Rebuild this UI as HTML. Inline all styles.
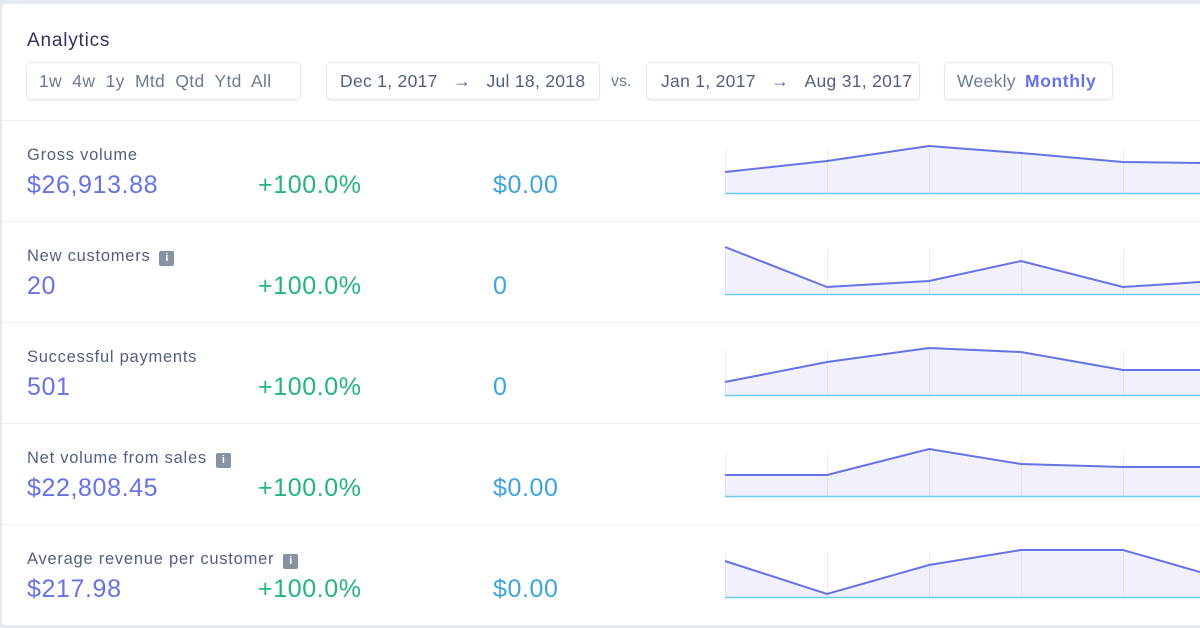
<!DOCTYPE html>
<html><head><style>
body{margin:0;width:1200px;height:628px;background:#e6ebf1;font-family:"Liberation Sans",sans-serif;position:relative;overflow:hidden}
.card{position:absolute;left:2px;top:4px;width:1210px;height:621px;background:#fff;border-radius:4px}
.a{position:absolute;white-space:nowrap}
.box{position:absolute;top:63px;height:36px;border-radius:4px;box-shadow:0 0 0 1px #e3e8ee,0 1px 2px rgba(50,50,93,.15);background:#fff;font-size:17.5px;color:#525f7f;line-height:36px;letter-spacing:.3px}
.sep{position:absolute;left:2px;width:1200px;height:1px;background:#edf0f4}
.lbl{font-size:16.5px;color:#525f7f;letter-spacing:.75px}
.val{font-size:25px;letter-spacing:.6px}
.info{display:inline-block;width:15px;height:15px;background:#8792a2;border-radius:2px;color:#fff;font-size:11px;line-height:15px;text-align:center;font-weight:bold;vertical-align:0;margin-left:9px;letter-spacing:0}
</style></head><body>
<div class="card"></div>
<div class="a" style="left:27px;top:30px;font-size:19px;color:#32325d;letter-spacing:.8px">Analytics</div>
<div class="box" style="left:27px;width:273px"><span style="margin-left:12px;color:#6b7c93">1w&nbsp; 4w&nbsp; 1y&nbsp; Mtd&nbsp; Qtd&nbsp; Ytd&nbsp; All</span></div>
<div class="box" style="left:327px;width:272px"><span style="margin-left:13px">Dec 1, 2017&nbsp;&nbsp; → &nbsp;&nbsp;Jul 18, 2018</span></div>
<div class="a" style="left:611px;top:73px;font-size:16px;color:#6b7c93">vs.</div>
<div class="box" style="left:647px;width:272px"><span style="margin-left:14px">Jan 1, 2017&nbsp;&nbsp; → &nbsp;&nbsp;Aug 31, 2017</span></div>
<div class="box" style="left:945px;width:167px"><span style="margin-left:12px;color:#6b7c93">Weekly</span> <span style="color:#6772e5;font-weight:bold;margin-left:4px;letter-spacing:.6px">Monthly</span></div>

<div class="sep" style="top:120px"></div>
<div class="sep" style="top:221px"></div>
<div class="sep" style="top:322px"></div>
<div class="sep" style="top:423px"></div>
<div class="sep" style="top:524px"></div>

<div class="a lbl" style="left:27px;top:146px">Gross volume</div>
<div class="a val" style="left:27px;top:171px;color:#6772e5">$26,913.88</div>
<div class="a val" style="left:258px;top:171px;color:#24b47e">+100.0%</div>
<div class="a val" style="left:493px;top:171px;color:#3ea4e0">$0.00</div>

<div class="a lbl" style="left:27px;top:247px">New customers<span class="info">i</span></div>
<div class="a val" style="left:27px;top:272px;color:#6772e5">20</div>
<div class="a val" style="left:258px;top:272px;color:#24b47e">+100.0%</div>
<div class="a val" style="left:493px;top:272px;color:#3ea4e0">0</div>

<div class="a lbl" style="left:27px;top:348px">Successful payments</div>
<div class="a val" style="left:27px;top:373px;color:#6772e5">501</div>
<div class="a val" style="left:258px;top:373px;color:#24b47e">+100.0%</div>
<div class="a val" style="left:493px;top:373px;color:#3ea4e0">0</div>

<div class="a lbl" style="left:27px;top:449px">Net volume from sales<span class="info">i</span></div>
<div class="a val" style="left:27px;top:474px;color:#6772e5">$22,808.45</div>
<div class="a val" style="left:258px;top:474px;color:#24b47e">+100.0%</div>
<div class="a val" style="left:493px;top:474px;color:#3ea4e0">$0.00</div>

<div class="a lbl" style="left:27px;top:550px">Average revenue per customer<span class="info">i</span></div>
<div class="a val" style="left:27px;top:575px;color:#6772e5">$217.98</div>
<div class="a val" style="left:258px;top:575px;color:#24b47e">+100.0%</div>
<div class="a val" style="left:493px;top:575px;color:#3ea4e0">$0.00</div>

<svg class="a" style="left:0;top:0" width="1200" height="628">
<g stroke="#eceef5" stroke-width="1">
<path d="M725.5 148V193M827.5 148V193M929.5 148V193M1021.5 148V193M1123.5 148V193"/>
<path d="M725.5 249V294M827.5 249V294M929.5 249V294M1021.5 249V294M1123.5 249V294"/>
<path d="M725.5 350V395M827.5 350V395M929.5 350V395M1021.5 350V395M1123.5 350V395"/>
<path d="M725.5 451V496M827.5 451V496M929.5 451V496M1021.5 451V496M1123.5 451V496"/>
<path d="M725.5 552V597M827.5 552V597M929.5 552V597M1021.5 552V597M1123.5 552V597"/>
</g>
<g fill="rgba(103,114,229,0.1)" stroke="none">
<path d="M725 172L827 161L929 146L1021 153L1123 162L1200 163V193H725Z"/>
<path d="M725 247L827 287L929 281L1021 261L1123 287L1200 282V294H725Z"/>
<path d="M725 382L827 362L929 348L1021 352L1123 370L1200 370V395H725Z"/>
<path d="M725 475L827 475L929 449L1021 464L1123 467L1200 467V496H725Z"/>
<path d="M725 561L827 594L929 565L1021 550L1123 550L1200 572V597H725Z"/>
</g>
<g fill="none" stroke="#6772e5" stroke-width="2">
<path d="M725 172L827 161L929 146L1021 153L1123 162L1200 163"/>
<path d="M725 247L827 287L929 281L1021 261L1123 287L1200 282"/>
<path d="M725 382L827 362L929 348L1021 352L1123 370L1200 370"/>
<path d="M725 475L827 475L929 449L1021 464L1123 467L1200 467"/>
<path d="M725 561L827 594L929 565L1021 550L1123 550L1200 572"/>
</g>
<g stroke="#6cc9f5" stroke-width="1.5">
<path d="M725 193.5H1200M725 294.5H1200M725 395.5H1200M725 496.5H1200M725 597.5H1200"/>
</g>
</svg>
</body></html>
